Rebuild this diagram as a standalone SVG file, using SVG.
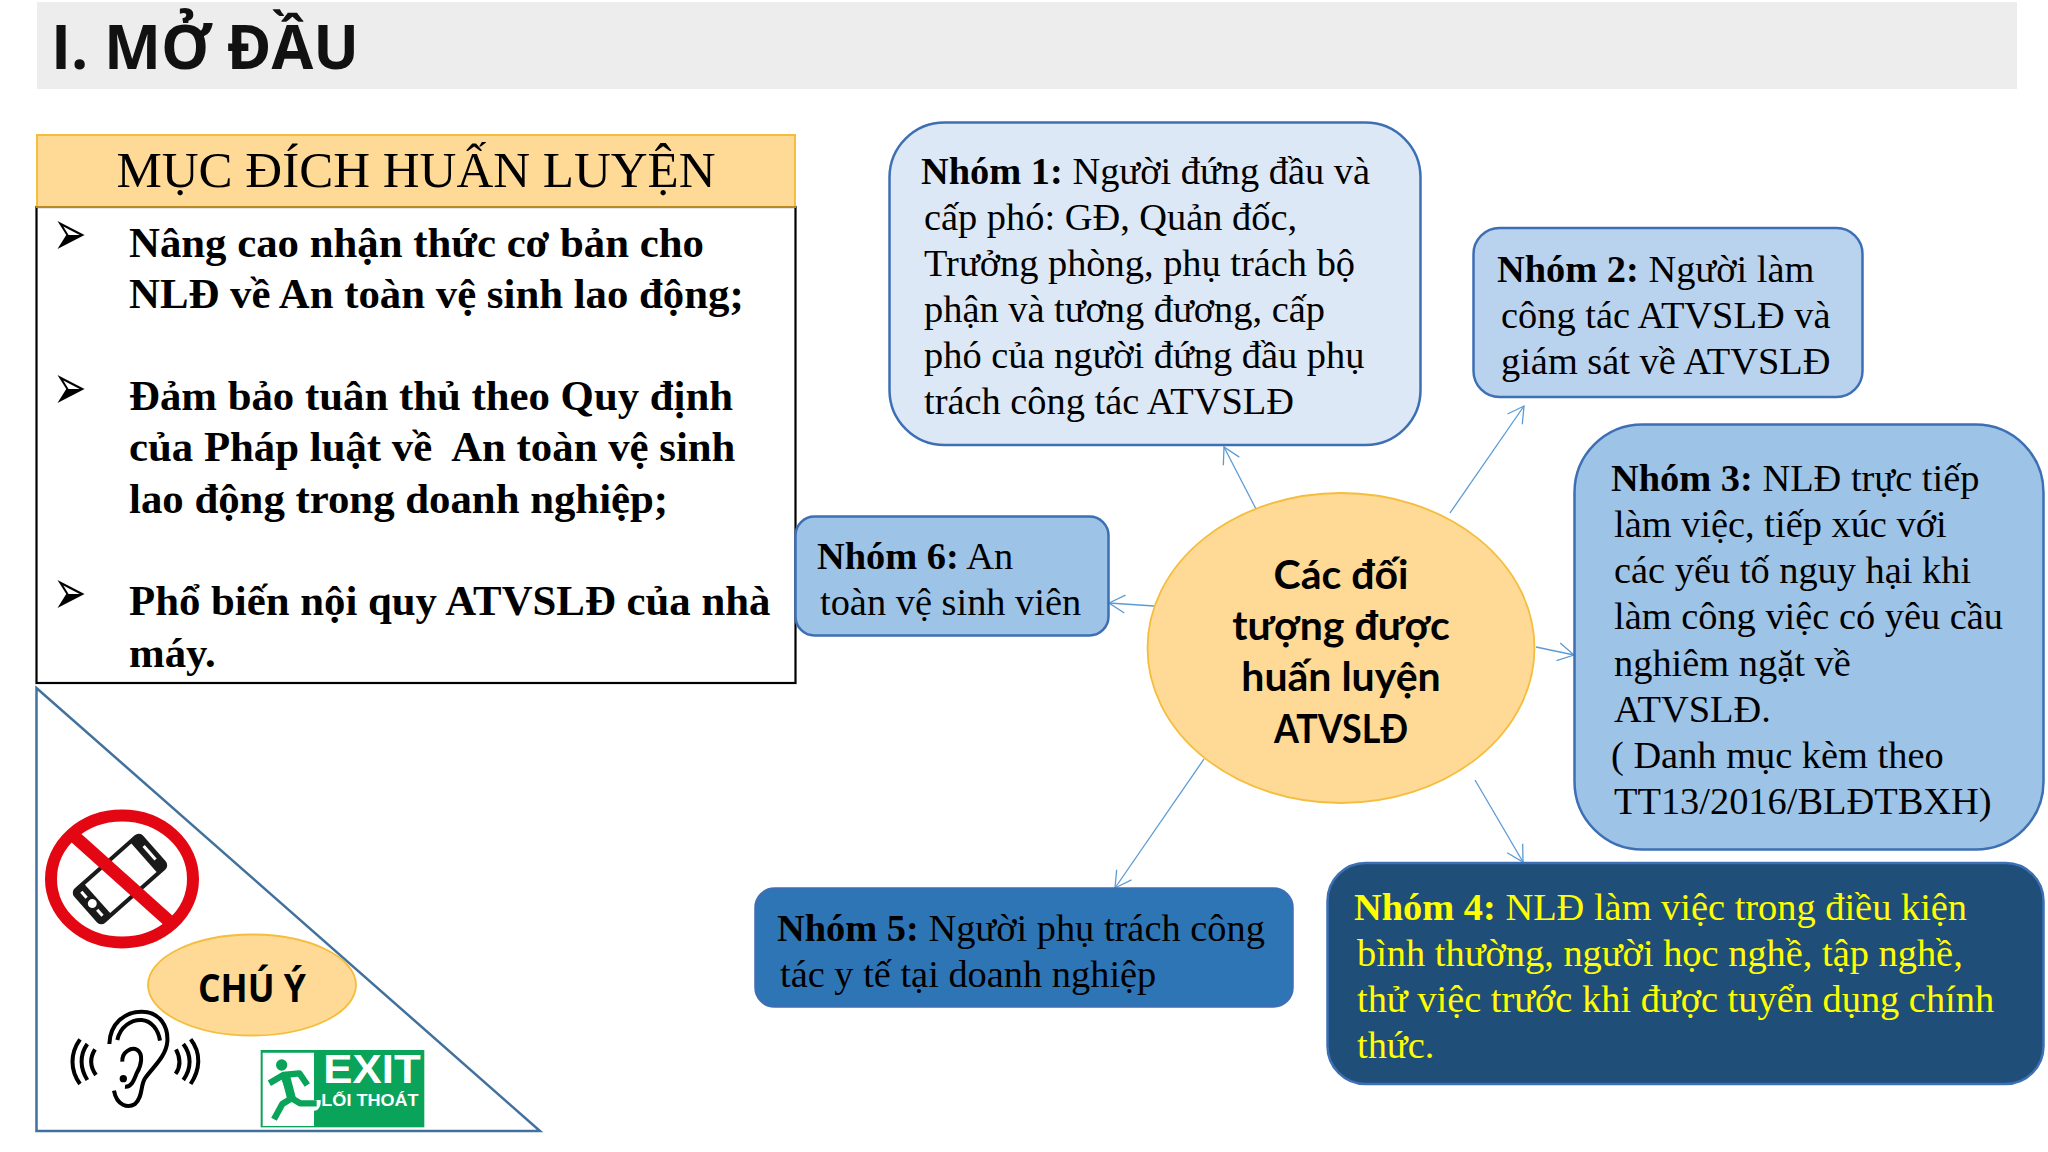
<svg xmlns="http://www.w3.org/2000/svg" width="2048" height="1152" viewBox="0 0 2048 1152">
<style>
.s{font-family:"Liberation Serif","Times New Roman",serif;white-space:pre}
.t{font-size:38.400px;fill:#000}
.y{font-size:38.400px;fill:#ffff00}
.b{font-weight:700}
.l{font-size:42.800px;font-weight:700;fill:#000}
.nb{stroke:#3d6fb4;stroke-width:2.500}
.bu{font-family:"DejaVu Sans",sans-serif;font-size:40px;fill:#000}
.c{font-family:Lato,"Open Sans",sans-serif;font-weight:700;font-size:41px;text-anchor:middle;fill:#000}
.a{fill:none;stroke:#5b9bd5;stroke-width:1.300}
.e{fill:none;stroke:#000;stroke-width:12;stroke-linecap:butt}
</style>
<defs>
<marker id="arr" markerUnits="userSpaceOnUse" markerWidth="22" markerHeight="22" refX="18" refY="11" orient="auto">
<path d="M2,2 L18,11 L2,20" fill="none" stroke="#5b9bd5" stroke-width="1.300"/>
</marker>
</defs>
<rect width="2048" height="1152" fill="#fff"/>
<g id="title">
<rect x="37" y="2" width="1980" height="87" fill="#ededed"/>
<text x="51" y="69" font-family="'Open Sans',sans-serif" font-weight="700" font-size="60.500" fill="#111">I. MỞ ĐẦU</text>
</g>
<g id="purpose">
<rect x="36.500" y="207" width="759" height="476" fill="#fff" stroke="#000" stroke-width="2.200"/>
<rect x="37" y="135" width="758" height="72" fill="#ffd996" stroke="#f5bd3c" stroke-width="2"/>
<line x1="36" y1="207" x2="796" y2="207" stroke="#b88a22" stroke-width="2"/>
<text class="s" x="416" y="187" font-size="51" text-anchor="middle" fill="#000">MỤC ĐÍCH HUẤN LUYỆN</text>
<text class="bu" transform="translate(53,255) scale(1,1.600)">➢</text>
<text class="bu" transform="translate(53,409) scale(1,1.600)">➢</text>
<text class="bu" transform="translate(53,614) scale(1,1.600)">➢</text>
<text class="s l" x="129" y="257">Nâng cao nhận thức cơ bản cho</text>
<text class="s l" x="129" y="308">NLĐ về An toàn vệ sinh lao động;</text>
<text class="s l" x="129" y="410">Đảm bảo tuân thủ theo Quy định</text>
<text class="s l" x="129" y="461">của Pháp luật về  An toàn vệ sinh</text>
<text class="s l" x="129" y="513">lao động trong doanh nghiệp;</text>
<text class="s l" x="129" y="615">Phổ biến nội quy ATVSLĐ của nhà</text>
<text class="s l" x="129" y="667">máy.</text>
</g>
<g id="notice">
<path d="M36.500,688 L36.500,1131 L540,1131 Z" fill="#fff" stroke="#41719c" stroke-width="2.500" stroke-linejoin="miter"/>
<g id="no-phone">
<g transform="translate(120,879) rotate(48.500)">
<rect x="-23" y="-46" width="46" height="92" rx="6" fill="#1a1a1a"/>
<rect x="-19" y="-32" width="38" height="62" fill="#fff"/>
<rect x="-9" y="-41" width="18" height="3" fill="#fff"/>
<circle cx="0" cy="37" r="4.500" fill="#fff"/>
<rect x="-16" y="36" width="8" height="3" fill="#fff"/>
<rect x="8" y="36" width="8" height="3" fill="#fff"/>
</g>
<ellipse cx="122" cy="879" rx="71" ry="63.500" fill="none" stroke="#e30613" stroke-width="12"/>
<line x1="74" y1="836" x2="170" y2="922" stroke="#e30613" stroke-width="13"/>
</g>
<g id="ear" transform="translate(60,1000) scale(0.3333)">
<path class="e" d="M148,132 C150,70 195,35 245,35 C300,35 325,80 322,125 C318,170 280,200 255,235 C240,258 250,290 225,312 C205,325 170,318 162,272"/>
<path class="e" d="M172,120 C180,80 215,58 245,60 C275,62 295,90 300,122"/>
<path class="e" d="M187,185 C185,155 215,140 232,150 C250,162 245,195 230,220 C222,240 215,262 195,260"/>
<circle cx="190" cy="236" r="11" fill="#000"/>
<path class="e" d="M60,118 C30,160 30,210 60,252 M82,132 C58,165 60,205 82,240 M105,148 C88,175 90,200 108,225"/>
<path class="e" d="M392,118 C425,160 420,210 392,252 M370,132 C395,165 395,205 370,240 M348,148 C362,175 362,200 347,222"/>
</g>
<g id="exit" transform="translate(250,1040) scale(0.3333)">
<rect x="32" y="30" width="491" height="232" fill="#0aa35a"/>
<path d="M38,38 H192 V180 H212 C214,205 200,213 192,212 V258 H38 Z" fill="#fff"/>
<circle cx="95" cy="75" r="17" fill="#0aa35a"/>
<path d="M58,130 L100,105 L148,100 L172,135 M100,105 L125,175 L97,192 L72,238 M125,175 L150,190 L200,190" fill="none" stroke="#0aa35a" stroke-width="19" stroke-linejoin="round"/>
<path d="M92,100 L118,98 L138,175 L112,180 Z" fill="#0aa35a"/>
<text x="220" y="128" font-family="'Liberation Sans',sans-serif" font-weight="700" font-size="120" fill="#fff" textLength="292" lengthAdjust="spacingAndGlyphs">EXIT</text>
<text x="214" y="198" font-family="'Liberation Sans',sans-serif" font-weight="700" font-size="50" fill="#fff" textLength="292" lengthAdjust="spacingAndGlyphs">LỐI THOÁT</text>
</g>
<g id="chu-y">
<ellipse cx="252" cy="985" rx="104" ry="50.500" fill="#ffd996" stroke="#f5bd3c" stroke-width="1.800"/>
<text x="252" y="1002" font-family="'Open Sans',sans-serif" font-weight="700" font-size="39" text-anchor="middle" fill="#000" textLength="108" lengthAdjust="spacingAndGlyphs">CHÚ Ý</text>
</g>
</g>
<g id="connectors">
<line class="a" x1="1256" y1="509" x2="1224" y2="447" marker-end="url(#arr)"/>
<line class="a" x1="1450" y1="513" x2="1524" y2="406" marker-end="url(#arr)"/>
<line class="a" x1="1536" y1="647" x2="1574" y2="655" marker-end="url(#arr)"/>
<line class="a" x1="1475" y1="780" x2="1523" y2="862" marker-end="url(#arr)"/>
<line class="a" x1="1204" y1="759" x2="1115" y2="888" marker-end="url(#arr)"/>
<line class="a" x1="1154" y1="606" x2="1109" y2="603" marker-end="url(#arr)"/>
</g>
<g id="center">
<ellipse cx="1341" cy="648" rx="193.500" ry="155" fill="#ffd996" stroke="#f5bd3c" stroke-width="1.800"/>
<text class="c" x="1341" y="589">Các đối</text>
<text class="c" x="1341" y="640">tượng được</text>
<text class="c" x="1341" y="691">huấn luyện</text>
<text class="c" x="1341" y="743" textLength="134" lengthAdjust="spacingAndGlyphs">ATVSLĐ</text>
</g>
<g id="group1">
<rect class="nb" x="889.500" y="122.500" width="531" height="322.500" rx="55" fill="#dce8f5"/>
<text class="s t" x="921" y="184"><tspan class="b">Nhóm 1:</tspan> Người đứng đầu và</text>
<text class="s t" x="924" y="230">cấp phó: GĐ, Quản đốc,</text>
<text class="s t" x="924" y="276">Trưởng phòng, phụ trách bộ</text>
<text class="s t" x="924" y="322">phận và tương đương, cấp</text>
<text class="s t" x="924" y="368">phó của người đứng đầu phụ</text>
<text class="s t" x="924" y="414">trách công tác ATVSLĐ</text>
</g>
<g id="group2">
<rect class="nb" x="1473.500" y="228" width="389" height="169" rx="26" fill="#b9d3ee"/>
<text class="s t" x="1497" y="282"><tspan class="b">Nhóm 2:</tspan> Người làm</text>
<text class="s t" x="1501" y="328">công tác ATVSLĐ và</text>
<text class="s t" x="1501" y="374">giám sát về ATVSLĐ</text>
</g>
<g id="group3">
<rect class="nb" x="1574.500" y="424.500" width="469" height="425" rx="68" fill="#9dc3e6"/>
<text class="s t" x="1611" y="491"><tspan class="b">Nhóm 3:</tspan> NLĐ trực tiếp</text>
<text class="s t" x="1614" y="537">làm việc, tiếp xúc với</text>
<text class="s t" x="1614" y="583">các yếu tố nguy hại khi</text>
<text class="s t" x="1614" y="629">làm công việc có yêu cầu</text>
<text class="s t" x="1614" y="676">nghiêm ngặt về</text>
<text class="s t" x="1614" y="722">ATVSLĐ.</text>
<text class="s t" x="1611" y="768">( Danh mục kèm theo</text>
<text class="s t" x="1614" y="814">TT13/2016/BLĐTBXH)</text>
</g>
<g id="group4">
<rect class="nb" x="1327.500" y="863" width="716" height="221" rx="38" fill="#1f4e79"/>
<text class="s y" x="1354" y="920"><tspan class="b">Nhóm 4:</tspan> NLĐ làm việc trong điều kiện</text>
<text class="s y" x="1357" y="966">bình thường, người học nghề, tập nghề,</text>
<text class="s y" x="1357" y="1012">thử việc trước khi được tuyển dụng chính</text>
<text class="s y" x="1357" y="1058">thức.</text>
</g>
<g id="group5">
<rect class="nb" x="755.500" y="888.500" width="537" height="118" rx="19" fill="#2e75b6"/>
<text class="s t" x="777" y="941"><tspan class="b">Nhóm 5:</tspan> Người phụ trách công</text>
<text class="s t" x="780" y="987">tác y tế tại doanh nghiệp</text>
</g>
<g id="group6">
<rect class="nb" x="795.500" y="516.500" width="313" height="119" rx="19" fill="#9dc3e6"/>
<text class="s t" x="817" y="569"><tspan class="b">Nhóm 6:</tspan> An</text>
<text class="s t" x="820" y="615">toàn vệ sinh viên</text>
</g>
</svg>
